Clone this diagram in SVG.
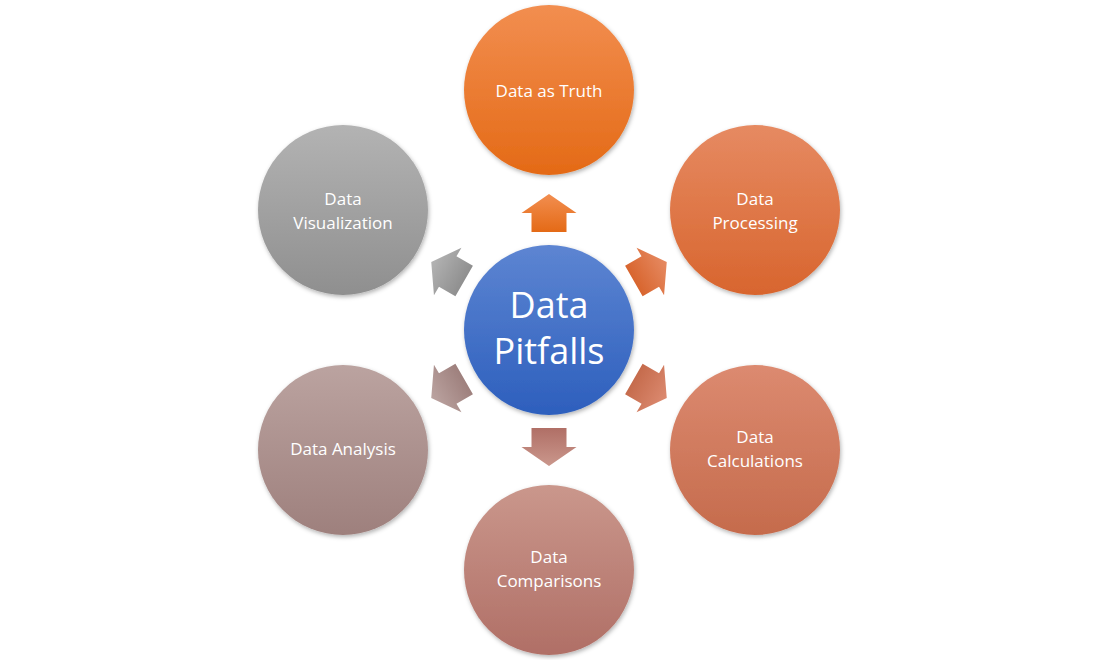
<svg xmlns="http://www.w3.org/2000/svg" width="1098" height="660" viewBox="0 0 1098 660">
<style>
text{font-family:"Open Sans","Liberation Sans",sans-serif;fill:#fff;text-anchor:middle}
.o{font-size:17px}
.c{font-size:36px}
</style>
<defs>
<filter id="sh" x="-20%" y="-20%" width="140%" height="140%"><feDropShadow dx="1" dy="2" stdDeviation="2" flood-opacity="0.3"/></filter>
<linearGradient id="g0" x1="0" y1="0" x2="0" y2="1"><stop offset="0" stop-color="#f28e50"/><stop offset="1" stop-color="#e46a16"/></linearGradient>
<linearGradient id="g1" x1="0" y1="0" x2="0" y2="1"><stop offset="0" stop-color="#e68a62"/><stop offset="1" stop-color="#d8652e"/></linearGradient>
<linearGradient id="g2" x1="0" y1="0" x2="0" y2="1"><stop offset="0" stop-color="#dc8a70"/><stop offset="1" stop-color="#c56b4c"/></linearGradient>
<linearGradient id="g3" x1="0" y1="0" x2="0" y2="1"><stop offset="0" stop-color="#ca978c"/><stop offset="1" stop-color="#b06f66"/></linearGradient>
<linearGradient id="g4" x1="0" y1="0" x2="0" y2="1"><stop offset="0" stop-color="#bba3a0"/><stop offset="1" stop-color="#9e807d"/></linearGradient>
<linearGradient id="g5" x1="0" y1="0" x2="0" y2="1"><stop offset="0" stop-color="#b3b3b3"/><stop offset="1" stop-color="#8f8f8f"/></linearGradient>
<linearGradient id="gc" x1="0" y1="0" x2="0" y2="1"><stop offset="0" stop-color="#5d85d2"/><stop offset="1" stop-color="#2d5fbd"/></linearGradient>
<path id="arr" d="M0,-19 L27.5,0 L17.5,0 L17.5,19 L-17.5,19 L-17.5,0 L-27.5,0 Z"/>
</defs>
<g id="connectors">
<use href="#arr" fill="url(#g0)" transform="translate(549,213)"/>
<use href="#arr" fill="url(#g1)" transform="translate(650.3,271.5) rotate(60)"/>
<use href="#arr" fill="url(#g2)" transform="translate(650.3,388.5) rotate(120)"/>
<use href="#arr" fill="url(#g3)" transform="translate(549,447) rotate(180)"/>
<use href="#arr" fill="url(#g4)" transform="translate(447.7,388.5) rotate(240)"/>
<use href="#arr" fill="url(#g5)" transform="translate(447.7,271.5) rotate(300)"/>
</g>
<g id="center"><circle cx="549" cy="330" r="85" fill="url(#gc)" filter="url(#sh)"/><text class="c" x="549" y="318">Data</text><text class="c" x="549" y="364">Pitfalls</text></g>
<g id="n0"><circle cx="549" cy="90" r="85" fill="url(#g0)" filter="url(#sh)"/><text class="o" x="549" y="97">Data as Truth</text></g>
<g id="n1"><circle cx="755" cy="210" r="85" fill="url(#g1)" filter="url(#sh)"/><text class="o" x="755" y="205">Data</text><text class="o" x="755" y="229">Processing</text></g>
<g id="n2"><circle cx="755" cy="450" r="85" fill="url(#g2)" filter="url(#sh)"/><text class="o" x="755" y="443">Data</text><text class="o" x="755" y="467">Calculations</text></g>
<g id="n3"><circle cx="549" cy="570" r="85" fill="url(#g3)" filter="url(#sh)"/><text class="o" x="549" y="563">Data</text><text class="o" x="549" y="587">Comparisons</text></g>
<g id="n4"><circle cx="343" cy="450" r="85" fill="url(#g4)" filter="url(#sh)"/><text class="o" x="343" y="455">Data Analysis</text></g>
<g id="n5"><circle cx="343" cy="210" r="85" fill="url(#g5)" filter="url(#sh)"/><text class="o" x="343" y="205">Data</text><text class="o" x="343" y="229">Visualization</text></g>
</svg>
